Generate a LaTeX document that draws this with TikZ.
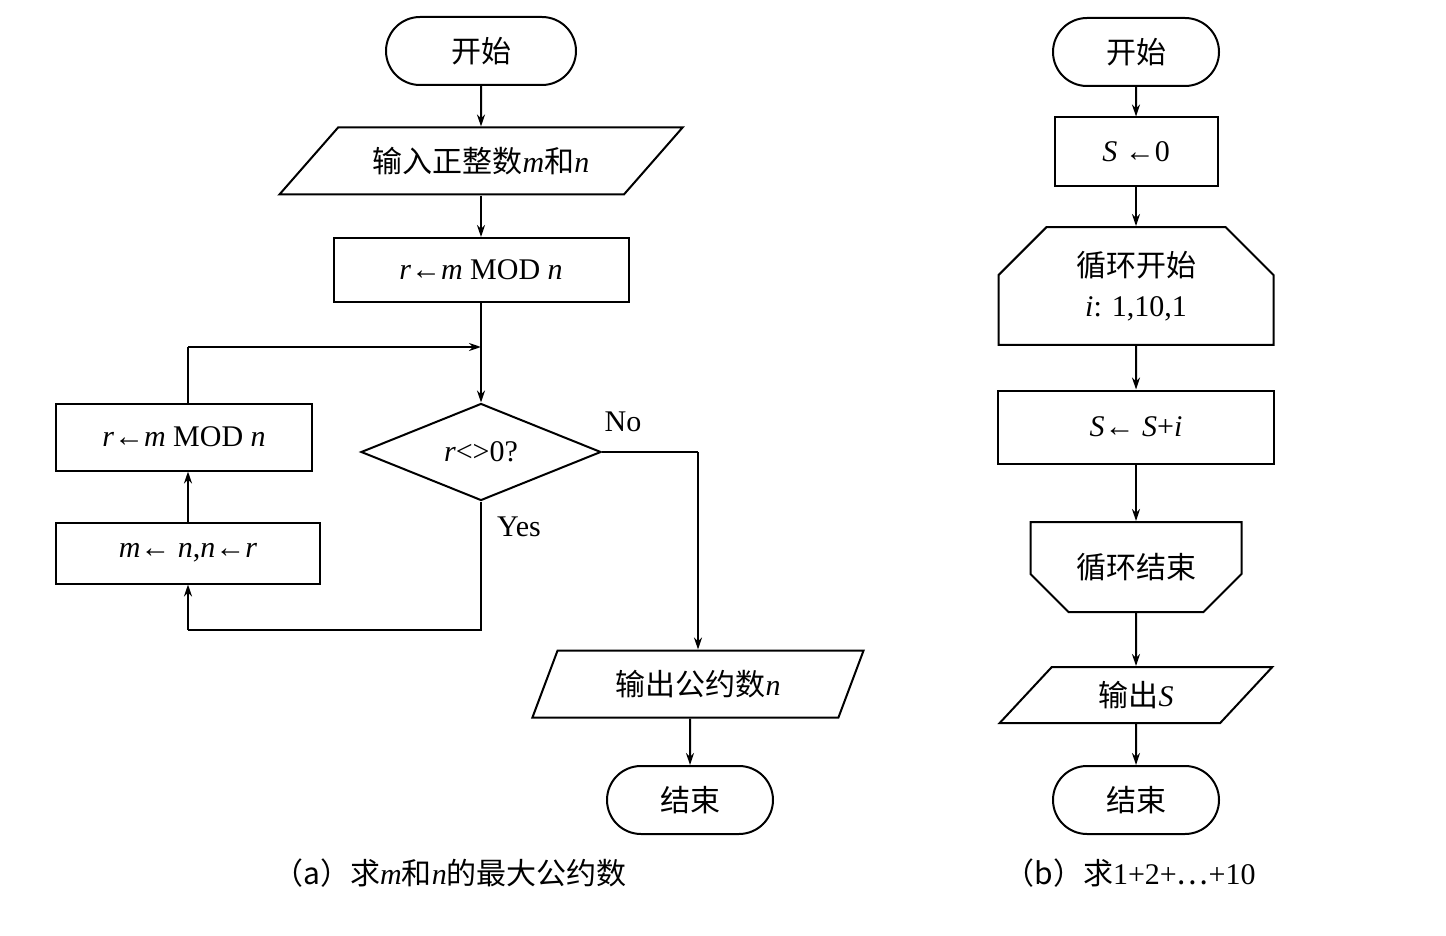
\documentclass[tikz,border=0pt]{standalone}
\usepackage{fontspec}
\setmainfont{Liberation Serif}
\newfontfamily\cjk{Noto Sans CJK SC}
\newcommand{\zh}[1]{{\cjk #1}}
\usetikzlibrary{shapes.geometric,shapes.misc,arrows.meta}
\begin{document}
\begin{tikzpicture}[x=0.5pt,y=-0.5pt,
  every node/.style={font=\fontsize{15}{18}\selectfont, line width=1pt, inner sep=0pt},
  term/.style={draw, rounded rectangle, minimum width=#1, minimum height=34pt},
  box/.style={draw, rectangle},
  io/.style={draw, trapezium, trapezium stretches=true},
  lbl/.style={draw=none},
  arr/.style={-{Stealth[length=6pt,width=4pt]}, line width=1pt},
  ln/.style={line width=1pt}]
\useasboundingbox (0,0) rectangle (1446,936);
% (a)
\node[term=95pt] (a1) at (481,51) {\zh{开始}};
\node[io, trapezium left angle=32, trapezium right angle=148, minimum width=202pt, minimum height=33.5pt] (a2) at (481,161) {\zh{输入正整数}\textit{m}\zh{和}\textit{n}};
\node[box, minimum width=147.5pt, minimum height=32pt] (a3) at (481,270) {\textit{r}←\textit{m} MOD \textit{n}};
\coordinate (j1) at (481,347);
\node[draw, diamond, aspect=2.47, minimum width=120pt, minimum height=48.5pt] (d) at (481,452) {\textit{r}<>0?};
\node[lbl] at (623,422) {No};
\node[lbl] at (519,527) {Yes};
\node[box, minimum width=128pt, minimum height=33.5pt] (l1) at (184,437) {\textit{r}←\textit{m} MOD \textit{n}};
\node[box, minimum width=132pt, minimum height=30.5pt] (l2) at (188,553) {\textit{m}← \textit{n},\textit{n}←\textit{r}};
\coordinate (c1) at (481,630);
\coordinate (c2) at (188,630);
\coordinate (c3) at (188,347);
\coordinate (c4) at (698,452);
\node[io, trapezium left angle=62, trapezium right angle=118, minimum width=167pt, minimum height=33.5pt] (a4) at (698,684) {\zh{输出公约数}\textit{n}};
\node[term=83pt] (a5) at (690,800) {\zh{结束}};
\node[lbl] at (450,873) {\zh{（a）求}\textit{m}\zh{和}\textit{n}\zh{的最大公约数}};
\draw[arr] (a1) -- (a2);
\draw[arr] (a2) -- (a3);
\draw[arr] (a3) -- (d);
\draw[ln] (d.south) -- (c1) -- (c2);
\draw[arr] (c2) -- (l2);
\draw[arr] (l2.north) -- (l2.north |- l1.south);
\draw[ln] (l1.north -| c3) -- (c3);
\draw[arr] (c3) -- (j1);
\draw[ln] (d.east) -- (c4);
\draw[arr] (c4) -- (a4.north -| c4);
\draw[arr] (a4.south -| a5) -- (a5);
% (b)
\node[term=83pt] (b1) at (1136,52) {\zh{开始}};
\node[box, minimum width=81.5pt, minimum height=34.5pt] (b2) at (1136,152) {\textit{S} ←0};
\node[draw, chamfered rectangle, chamfered rectangle corners={north west,north east}, chamfered rectangle xsep=12pt, chamfered rectangle ysep=12pt, minimum width=137.5pt, minimum height=56pt, align=center] (b3) at (1136,286) {\zh{循环开始}\\[2pt]\textit{i}: 1,10,1};
\node[box, minimum width=138pt, minimum height=36.5pt] (b4) at (1136,427) {\textit{S}← \textit{S}+\textit{i}};
\node[draw, chamfered rectangle, chamfered rectangle corners={south west,south east}, chamfered rectangle xsep=12pt, chamfered rectangle ysep=12pt, minimum width=105.5pt, minimum height=45pt] (b5) at (1136,567) {\zh{循环结束}};
\node[io, trapezium left angle=50, trapezium right angle=130, minimum width=137pt, minimum height=28pt] (b6) at (1136,695) {\zh{输出}\textit{S}};
\node[term=83pt] (b7) at (1136,800) {\zh{结束}};
\node[lbl] at (1130,873) {\zh{（b）求}1+2+\zh{⋯}+10};
\draw[arr] (b1) -- (b2);
\draw[arr] (b2) -- (b3);
\draw[arr] (b3) -- (b4);
\draw[arr] (b4) -- (b5);
\draw[arr] (b5) -- (b6);
\draw[arr] (b6) -- (b7);
\end{tikzpicture}
\end{document}
